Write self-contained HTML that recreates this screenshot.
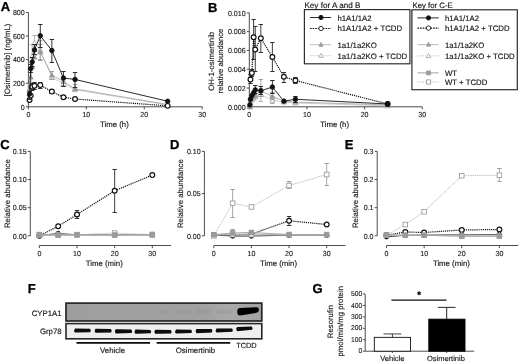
<!DOCTYPE html><html><head><meta charset="utf-8"><title>Figure</title><style>html,body{margin:0;padding:0;background:#fff;}svg{display:block;}text{font-family:"Liberation Sans",Arial,Helvetica,sans-serif;text-rendering:geometricPrecision;}</style></head><body>
<svg width="520" height="363" viewBox="0 0 520 363">
<rect width="520" height="363" fill="#fff"/>
<text font-size="13.0" text-anchor="start" font-weight="bold" fill="#000" stroke="#000" stroke-width="0.3" transform="translate(0.7 11.3)">A</text>
<text font-size="13.0" text-anchor="start" font-weight="bold" fill="#000" stroke="#000" stroke-width="0.3" transform="translate(207.9 11.5)">B</text>
<text font-size="13.0" text-anchor="start" font-weight="bold" fill="#000" stroke="#000" stroke-width="0.3" transform="translate(0.3 149.4)">C</text>
<text font-size="13.0" text-anchor="start" font-weight="bold" fill="#000" stroke="#000" stroke-width="0.3" transform="translate(169.9 149)">D</text>
<text font-size="13.0" text-anchor="start" font-weight="bold" fill="#000" stroke="#000" stroke-width="0.3" transform="translate(344.7 149.1)">E</text>
<text font-size="13.0" text-anchor="start" font-weight="bold" fill="#000" stroke="#000" stroke-width="0.3" transform="translate(27.7 292.8)">F</text>
<text font-size="13.0" text-anchor="start" font-weight="bold" fill="#000" stroke="#000" stroke-width="0.3" transform="translate(312.5 292.7)">G</text>
<line x1="28.4" y1="12.5" x2="28.4" y2="106.8" stroke="#3a3a3a" stroke-width="0.9" stroke-linecap="butt"/>
<line x1="25.9" y1="106.8" x2="28.4" y2="106.8" stroke="#3a3a3a" stroke-width="0.9" stroke-linecap="butt"/>
<text font-size="7.3" text-anchor="end" font-weight="normal" fill="#161616" stroke="#161616" stroke-width="0.12" transform="translate(24.7 109.55) scale(0.97 1)">0</text>
<line x1="25.9" y1="83.22" x2="28.4" y2="83.22" stroke="#3a3a3a" stroke-width="0.9" stroke-linecap="butt"/>
<text font-size="7.3" text-anchor="end" font-weight="normal" fill="#161616" stroke="#161616" stroke-width="0.12" transform="translate(24.7 85.97) scale(0.97 1)">200</text>
<line x1="25.9" y1="59.65" x2="28.4" y2="59.65" stroke="#3a3a3a" stroke-width="0.9" stroke-linecap="butt"/>
<text font-size="7.3" text-anchor="end" font-weight="normal" fill="#161616" stroke="#161616" stroke-width="0.12" transform="translate(24.7 62.4) scale(0.97 1)">400</text>
<line x1="25.9" y1="36.07" x2="28.4" y2="36.07" stroke="#3a3a3a" stroke-width="0.9" stroke-linecap="butt"/>
<text font-size="7.3" text-anchor="end" font-weight="normal" fill="#161616" stroke="#161616" stroke-width="0.12" transform="translate(24.7 38.82) scale(0.97 1)">600</text>
<line x1="25.9" y1="12.5" x2="28.4" y2="12.5" stroke="#3a3a3a" stroke-width="0.9" stroke-linecap="butt"/>
<text font-size="7.3" text-anchor="end" font-weight="normal" fill="#161616" stroke="#161616" stroke-width="0.12" transform="translate(24.7 15.25) scale(0.97 1)">800</text>
<line x1="28.4" y1="106.8" x2="202.19" y2="106.8" stroke="#3a3a3a" stroke-width="0.9" stroke-linecap="butt"/>
<line x1="28.4" y1="106.8" x2="28.4" y2="109.4" stroke="#3a3a3a" stroke-width="0.9" stroke-linecap="butt"/>
<text font-size="7.3" text-anchor="middle" font-weight="normal" fill="#161616" stroke="#161616" stroke-width="0.12" transform="translate(28.4 117) scale(0.97 1)">0</text>
<line x1="86.33" y1="106.8" x2="86.33" y2="109.4" stroke="#3a3a3a" stroke-width="0.9" stroke-linecap="butt"/>
<text font-size="7.3" text-anchor="middle" font-weight="normal" fill="#161616" stroke="#161616" stroke-width="0.12" transform="translate(86.33 117) scale(0.97 1)">10</text>
<line x1="144.26" y1="106.8" x2="144.26" y2="109.4" stroke="#3a3a3a" stroke-width="0.9" stroke-linecap="butt"/>
<text font-size="7.3" text-anchor="middle" font-weight="normal" fill="#161616" stroke="#161616" stroke-width="0.12" transform="translate(144.26 117) scale(0.97 1)">20</text>
<line x1="202.19" y1="106.8" x2="202.19" y2="109.4" stroke="#3a3a3a" stroke-width="0.9" stroke-linecap="butt"/>
<text font-size="7.3" text-anchor="middle" font-weight="normal" fill="#161616" stroke="#161616" stroke-width="0.12" transform="translate(202.19 117) scale(0.97 1)">30</text>
<text font-size="7.8" text-anchor="middle" font-weight="normal" fill="#161616" stroke="#161616" stroke-width="0.15" transform="translate(114.4 126.8)">Time (h)</text>
<text font-size="7.8" text-anchor="middle" font-weight="normal" fill="#161616" stroke="#161616" stroke-width="0.15" transform="translate(10.4 60) rotate(-90)">[Osimertinib] (ng/mL)</text>
<line x1="32.17" y1="44.5" x2="32.17" y2="67.5" stroke="#a8a8a8" stroke-width="0.85" stroke-linecap="butt"/>
<line x1="29.97" y1="44.5" x2="34.37" y2="44.5" stroke="#a8a8a8" stroke-width="0.95" stroke-linecap="butt"/>
<line x1="29.97" y1="67.5" x2="34.37" y2="67.5" stroke="#a8a8a8" stroke-width="0.95" stroke-linecap="butt"/>
<line x1="34.49" y1="35.5" x2="34.49" y2="51.5" stroke="#a8a8a8" stroke-width="0.85" stroke-linecap="butt"/>
<line x1="32.29" y1="35.5" x2="36.69" y2="35.5" stroke="#a8a8a8" stroke-width="0.95" stroke-linecap="butt"/>
<line x1="32.29" y1="51.5" x2="36.69" y2="51.5" stroke="#a8a8a8" stroke-width="0.95" stroke-linecap="butt"/>
<line x1="40.28" y1="40.5" x2="40.28" y2="59.5" stroke="#a8a8a8" stroke-width="0.85" stroke-linecap="butt"/>
<line x1="38.08" y1="40.5" x2="42.48" y2="40.5" stroke="#a8a8a8" stroke-width="0.95" stroke-linecap="butt"/>
<line x1="38.08" y1="59.5" x2="42.48" y2="59.5" stroke="#a8a8a8" stroke-width="0.95" stroke-linecap="butt"/>
<polyline points="29.57,93.83 30.73,83.22 32.17,56.11 34.49,43.14 40.28,50.22 51.86,77.33 63.44,83.81 75.02,89.71 167.66,105.03" fill="none" stroke="#c4c4c4" stroke-width="0.8" stroke-linejoin="round"/>
<polygon points="29.57,91.07 32.21,95.77 26.93,95.77" fill="#fff" stroke="#a8a8a8" stroke-width="0.85"/>
<polygon points="30.73,80.46 33.37,85.16 28.09,85.16" fill="#fff" stroke="#a8a8a8" stroke-width="0.85"/>
<polygon points="32.17,53.35 34.81,58.04 29.53,58.04" fill="#fff" stroke="#a8a8a8" stroke-width="0.85"/>
<polygon points="34.49,40.38 37.13,45.08 31.85,45.08" fill="#fff" stroke="#a8a8a8" stroke-width="0.85"/>
<polygon points="40.28,47.46 42.92,52.15 37.64,52.15" fill="#fff" stroke="#a8a8a8" stroke-width="0.85"/>
<polygon points="51.86,74.57 54.5,79.26 49.22,79.26" fill="#fff" stroke="#a8a8a8" stroke-width="0.85"/>
<polygon points="63.44,81.05 66.08,85.75 60.8,85.75" fill="#fff" stroke="#a8a8a8" stroke-width="0.85"/>
<polygon points="75.02,86.95 77.66,91.64 72.38,91.64" fill="#fff" stroke="#a8a8a8" stroke-width="0.85"/>
<polygon points="167.66,102.27 170.3,106.96 165.02,106.96" fill="#fff" stroke="#a8a8a8" stroke-width="0.85"/>
<line x1="40.28" y1="44.5" x2="40.28" y2="60.5" stroke="#9a9a9a" stroke-width="0.85" stroke-linecap="butt"/>
<line x1="38.08" y1="44.5" x2="42.48" y2="44.5" stroke="#9a9a9a" stroke-width="0.95" stroke-linecap="butt"/>
<line x1="38.08" y1="60.5" x2="42.48" y2="60.5" stroke="#9a9a9a" stroke-width="0.95" stroke-linecap="butt"/>
<line x1="51.86" y1="71.5" x2="51.86" y2="79.5" stroke="#9a9a9a" stroke-width="0.85" stroke-linecap="butt"/>
<line x1="49.66" y1="71.5" x2="54.06" y2="71.5" stroke="#9a9a9a" stroke-width="0.95" stroke-linecap="butt"/>
<line x1="49.66" y1="79.5" x2="54.06" y2="79.5" stroke="#9a9a9a" stroke-width="0.95" stroke-linecap="butt"/>
<line x1="75.02" y1="84.5" x2="75.02" y2="90.5" stroke="#9a9a9a" stroke-width="0.85" stroke-linecap="butt"/>
<line x1="72.82" y1="84.5" x2="77.22" y2="84.5" stroke="#9a9a9a" stroke-width="0.95" stroke-linecap="butt"/>
<line x1="72.82" y1="90.5" x2="77.22" y2="90.5" stroke="#9a9a9a" stroke-width="0.95" stroke-linecap="butt"/>
<polyline points="29.57,89.12 30.73,77.33 32.17,66.72 34.49,57.29 40.28,51.99 51.86,75.21 63.44,81.46 75.02,88.88 167.66,104.44" fill="none" stroke="#a8a8a8" stroke-width="0.9" stroke-linejoin="round"/>
<polygon points="29.57,86.59 31.99,90.89 27.15,90.89" fill="#9a9a9a" stroke="#9a9a9a" stroke-width="0.85"/>
<polygon points="30.73,74.8 33.15,79.1 28.31,79.1" fill="#9a9a9a" stroke="#9a9a9a" stroke-width="0.85"/>
<polygon points="32.17,64.19 34.59,68.49 29.75,68.49" fill="#9a9a9a" stroke="#9a9a9a" stroke-width="0.85"/>
<polygon points="34.49,54.76 36.91,59.06 32.07,59.06" fill="#9a9a9a" stroke="#9a9a9a" stroke-width="0.85"/>
<polygon points="40.28,49.46 42.7,53.76 37.86,53.76" fill="#9a9a9a" stroke="#9a9a9a" stroke-width="0.85"/>
<polygon points="51.86,72.68 54.28,76.98 49.44,76.98" fill="#9a9a9a" stroke="#9a9a9a" stroke-width="0.85"/>
<polygon points="63.44,78.93 65.86,83.23 61.02,83.23" fill="#9a9a9a" stroke="#9a9a9a" stroke-width="0.85"/>
<polygon points="75.02,86.35 77.44,90.65 72.6,90.65" fill="#9a9a9a" stroke="#9a9a9a" stroke-width="0.85"/>
<polygon points="167.66,101.91 170.08,106.21 165.24,106.21" fill="#9a9a9a" stroke="#9a9a9a" stroke-width="0.85"/>
<line x1="32.17" y1="83.5" x2="32.17" y2="90.5" stroke="#333" stroke-width="0.95" stroke-linecap="butt"/>
<line x1="29.97" y1="83.5" x2="34.37" y2="83.5" stroke="#333" stroke-width="1.05" stroke-linecap="butt"/>
<line x1="29.97" y1="90.5" x2="34.37" y2="90.5" stroke="#333" stroke-width="1.05" stroke-linecap="butt"/>
<line x1="34.49" y1="82.5" x2="34.49" y2="89.5" stroke="#333" stroke-width="0.95" stroke-linecap="butt"/>
<line x1="32.29" y1="82.5" x2="36.69" y2="82.5" stroke="#333" stroke-width="1.05" stroke-linecap="butt"/>
<line x1="32.29" y1="89.5" x2="36.69" y2="89.5" stroke="#333" stroke-width="1.05" stroke-linecap="butt"/>
<line x1="40.28" y1="82.5" x2="40.28" y2="88.5" stroke="#333" stroke-width="0.95" stroke-linecap="butt"/>
<line x1="38.08" y1="82.5" x2="42.48" y2="82.5" stroke="#333" stroke-width="1.05" stroke-linecap="butt"/>
<line x1="38.08" y1="88.5" x2="42.48" y2="88.5" stroke="#333" stroke-width="1.05" stroke-linecap="butt"/>
<line x1="51.86" y1="89.5" x2="51.86" y2="93.5" stroke="#333" stroke-width="0.95" stroke-linecap="butt"/>
<line x1="49.66" y1="89.5" x2="54.06" y2="89.5" stroke="#333" stroke-width="1.05" stroke-linecap="butt"/>
<line x1="49.66" y1="93.5" x2="54.06" y2="93.5" stroke="#333" stroke-width="1.05" stroke-linecap="butt"/>
<line x1="63.44" y1="95.5" x2="63.44" y2="98.5" stroke="#333" stroke-width="0.95" stroke-linecap="butt"/>
<line x1="61.24" y1="95.5" x2="65.64" y2="95.5" stroke="#333" stroke-width="1.05" stroke-linecap="butt"/>
<line x1="61.24" y1="98.5" x2="65.64" y2="98.5" stroke="#333" stroke-width="1.05" stroke-linecap="butt"/>
<polyline points="29.57,99.96 30.73,95.6 32.17,86.76 34.49,85.82 40.28,85.11 51.86,91.59 63.44,97.25 75.02,99.02 167.66,105.86" fill="none" stroke="#111" stroke-width="1.2" stroke-dasharray="1.2,0.9" stroke-linejoin="round"/>
<circle cx="29.57" cy="99.96" r="2.4" fill="#fff" stroke="#111" stroke-width="1.15"/>
<circle cx="30.73" cy="95.6" r="2.4" fill="#fff" stroke="#111" stroke-width="1.15"/>
<circle cx="32.17" cy="86.76" r="2.4" fill="#fff" stroke="#111" stroke-width="1.15"/>
<circle cx="34.49" cy="85.82" r="2.4" fill="#fff" stroke="#111" stroke-width="1.15"/>
<circle cx="40.28" cy="85.11" r="2.4" fill="#fff" stroke="#111" stroke-width="1.15"/>
<circle cx="51.86" cy="91.59" r="2.4" fill="#fff" stroke="#111" stroke-width="1.15"/>
<circle cx="63.44" cy="97.25" r="2.4" fill="#fff" stroke="#111" stroke-width="1.15"/>
<circle cx="75.02" cy="99.02" r="2.4" fill="#fff" stroke="#111" stroke-width="1.15"/>
<circle cx="167.66" cy="105.86" r="2.4" fill="#fff" stroke="#111" stroke-width="1.15"/>
<line x1="29.57" y1="91.5" x2="29.57" y2="99.5" stroke="#2a2a2a" stroke-width="0.95" stroke-linecap="butt"/>
<line x1="27.37" y1="91.5" x2="31.77" y2="91.5" stroke="#2a2a2a" stroke-width="1.05" stroke-linecap="butt"/>
<line x1="27.37" y1="99.5" x2="31.77" y2="99.5" stroke="#2a2a2a" stroke-width="1.05" stroke-linecap="butt"/>
<line x1="30.73" y1="64.5" x2="30.73" y2="72.5" stroke="#2a2a2a" stroke-width="0.95" stroke-linecap="butt"/>
<line x1="28.53" y1="64.5" x2="32.93" y2="64.5" stroke="#2a2a2a" stroke-width="1.05" stroke-linecap="butt"/>
<line x1="28.53" y1="72.5" x2="32.93" y2="72.5" stroke="#2a2a2a" stroke-width="1.05" stroke-linecap="butt"/>
<line x1="32.17" y1="57.5" x2="32.17" y2="66.5" stroke="#2a2a2a" stroke-width="0.95" stroke-linecap="butt"/>
<line x1="29.97" y1="57.5" x2="34.37" y2="57.5" stroke="#2a2a2a" stroke-width="1.05" stroke-linecap="butt"/>
<line x1="29.97" y1="66.5" x2="34.37" y2="66.5" stroke="#2a2a2a" stroke-width="1.05" stroke-linecap="butt"/>
<line x1="34.49" y1="44.5" x2="34.49" y2="54.5" stroke="#2a2a2a" stroke-width="0.95" stroke-linecap="butt"/>
<line x1="32.29" y1="44.5" x2="36.69" y2="44.5" stroke="#2a2a2a" stroke-width="1.05" stroke-linecap="butt"/>
<line x1="32.29" y1="54.5" x2="36.69" y2="54.5" stroke="#2a2a2a" stroke-width="1.05" stroke-linecap="butt"/>
<line x1="40.28" y1="24.5" x2="40.28" y2="47.5" stroke="#2a2a2a" stroke-width="0.95" stroke-linecap="butt"/>
<line x1="38.08" y1="24.5" x2="42.48" y2="24.5" stroke="#2a2a2a" stroke-width="1.05" stroke-linecap="butt"/>
<line x1="38.08" y1="47.5" x2="42.48" y2="47.5" stroke="#2a2a2a" stroke-width="1.05" stroke-linecap="butt"/>
<line x1="51.86" y1="39.5" x2="51.86" y2="62.5" stroke="#2a2a2a" stroke-width="0.95" stroke-linecap="butt"/>
<line x1="49.66" y1="39.5" x2="54.06" y2="39.5" stroke="#2a2a2a" stroke-width="1.05" stroke-linecap="butt"/>
<line x1="49.66" y1="62.5" x2="54.06" y2="62.5" stroke="#2a2a2a" stroke-width="1.05" stroke-linecap="butt"/>
<line x1="63.44" y1="71.5" x2="63.44" y2="86.5" stroke="#2a2a2a" stroke-width="0.95" stroke-linecap="butt"/>
<line x1="61.24" y1="71.5" x2="65.64" y2="71.5" stroke="#2a2a2a" stroke-width="1.05" stroke-linecap="butt"/>
<line x1="61.24" y1="86.5" x2="65.64" y2="86.5" stroke="#2a2a2a" stroke-width="1.05" stroke-linecap="butt"/>
<line x1="75.02" y1="72.5" x2="75.02" y2="87.5" stroke="#2a2a2a" stroke-width="0.95" stroke-linecap="butt"/>
<line x1="72.82" y1="72.5" x2="77.22" y2="72.5" stroke="#2a2a2a" stroke-width="1.05" stroke-linecap="butt"/>
<line x1="72.82" y1="87.5" x2="77.22" y2="87.5" stroke="#2a2a2a" stroke-width="1.05" stroke-linecap="butt"/>
<polyline points="29.57,94.07 30.73,68.61 32.17,62.01 34.49,49.98 40.28,35.72 51.86,50.57 63.44,78.04 75.02,79.45 167.66,101.26" fill="none" stroke="#111" stroke-width="0.9" stroke-linejoin="round"/>
<circle cx="29.57" cy="94.07" r="2.25" fill="#111" stroke="#111" stroke-width="0.85"/>
<circle cx="30.73" cy="68.61" r="2.25" fill="#111" stroke="#111" stroke-width="0.85"/>
<circle cx="32.17" cy="62.01" r="2.25" fill="#111" stroke="#111" stroke-width="0.85"/>
<circle cx="34.49" cy="49.98" r="2.25" fill="#111" stroke="#111" stroke-width="0.85"/>
<circle cx="40.28" cy="35.72" r="2.25" fill="#111" stroke="#111" stroke-width="0.85"/>
<circle cx="51.86" cy="50.57" r="2.25" fill="#111" stroke="#111" stroke-width="0.85"/>
<circle cx="63.44" cy="78.04" r="2.25" fill="#111" stroke="#111" stroke-width="0.85"/>
<circle cx="75.02" cy="79.45" r="2.25" fill="#111" stroke="#111" stroke-width="0.85"/>
<circle cx="167.66" cy="101.26" r="2.25" fill="#111" stroke="#111" stroke-width="0.85"/>
<line x1="249.3" y1="12.86" x2="249.3" y2="106.8" stroke="#3a3a3a" stroke-width="0.9" stroke-linecap="butt"/>
<line x1="246.8" y1="106.8" x2="249.3" y2="106.8" stroke="#3a3a3a" stroke-width="0.9" stroke-linecap="butt"/>
<text font-size="7.3" text-anchor="end" font-weight="normal" fill="#161616" stroke="#161616" stroke-width="0.12" transform="translate(245.6 109.55) scale(0.97 1)">0.000</text>
<line x1="246.8" y1="88.01" x2="249.3" y2="88.01" stroke="#3a3a3a" stroke-width="0.9" stroke-linecap="butt"/>
<text font-size="7.3" text-anchor="end" font-weight="normal" fill="#161616" stroke="#161616" stroke-width="0.12" transform="translate(245.6 90.76) scale(0.97 1)">0.002</text>
<line x1="246.8" y1="69.22" x2="249.3" y2="69.22" stroke="#3a3a3a" stroke-width="0.9" stroke-linecap="butt"/>
<text font-size="7.3" text-anchor="end" font-weight="normal" fill="#161616" stroke="#161616" stroke-width="0.12" transform="translate(245.6 71.97) scale(0.97 1)">0.004</text>
<line x1="246.8" y1="50.44" x2="249.3" y2="50.44" stroke="#3a3a3a" stroke-width="0.9" stroke-linecap="butt"/>
<text font-size="7.3" text-anchor="end" font-weight="normal" fill="#161616" stroke="#161616" stroke-width="0.12" transform="translate(245.6 53.19) scale(0.97 1)">0.006</text>
<line x1="246.8" y1="31.65" x2="249.3" y2="31.65" stroke="#3a3a3a" stroke-width="0.9" stroke-linecap="butt"/>
<text font-size="7.3" text-anchor="end" font-weight="normal" fill="#161616" stroke="#161616" stroke-width="0.12" transform="translate(245.6 34.4) scale(0.97 1)">0.008</text>
<line x1="246.8" y1="12.86" x2="249.3" y2="12.86" stroke="#3a3a3a" stroke-width="0.9" stroke-linecap="butt"/>
<text font-size="7.3" text-anchor="end" font-weight="normal" fill="#161616" stroke="#161616" stroke-width="0.12" transform="translate(245.6 15.61) scale(0.97 1)">0.010</text>
<line x1="249.3" y1="106.8" x2="422.25" y2="106.8" stroke="#3a3a3a" stroke-width="0.9" stroke-linecap="butt"/>
<line x1="249.3" y1="106.8" x2="249.3" y2="109.4" stroke="#3a3a3a" stroke-width="0.9" stroke-linecap="butt"/>
<text font-size="7.3" text-anchor="middle" font-weight="normal" fill="#161616" stroke="#161616" stroke-width="0.12" transform="translate(249.3 117) scale(0.97 1)">0</text>
<line x1="306.95" y1="106.8" x2="306.95" y2="109.4" stroke="#3a3a3a" stroke-width="0.9" stroke-linecap="butt"/>
<text font-size="7.3" text-anchor="middle" font-weight="normal" fill="#161616" stroke="#161616" stroke-width="0.12" transform="translate(306.95 117) scale(0.97 1)">10</text>
<line x1="364.6" y1="106.8" x2="364.6" y2="109.4" stroke="#3a3a3a" stroke-width="0.9" stroke-linecap="butt"/>
<text font-size="7.3" text-anchor="middle" font-weight="normal" fill="#161616" stroke="#161616" stroke-width="0.12" transform="translate(364.6 117) scale(0.97 1)">20</text>
<line x1="422.25" y1="106.8" x2="422.25" y2="109.4" stroke="#3a3a3a" stroke-width="0.9" stroke-linecap="butt"/>
<text font-size="7.3" text-anchor="middle" font-weight="normal" fill="#161616" stroke="#161616" stroke-width="0.12" transform="translate(422.25 117) scale(0.97 1)">30</text>
<text font-size="7.8" text-anchor="middle" font-weight="normal" fill="#161616" stroke="#161616" stroke-width="0.15" transform="translate(334.6 127)">Time (h)</text>
<text font-size="7.8" text-anchor="middle" font-weight="normal" fill="#161616" stroke="#161616" stroke-width="0.15" transform="translate(214.3 61.25) rotate(-90)">OH-1-osimertinib</text>
<text font-size="7.65" text-anchor="middle" font-weight="normal" fill="#161616" stroke="#161616" stroke-width="0.15" transform="translate(223 61.05) rotate(-90)">relative abundance</text>
<line x1="260.83" y1="88.5" x2="260.83" y2="101.5" stroke="#a8a8a8" stroke-width="0.85" stroke-linecap="butt"/>
<line x1="258.63" y1="88.5" x2="263.03" y2="88.5" stroke="#a8a8a8" stroke-width="0.95" stroke-linecap="butt"/>
<line x1="258.63" y1="101.5" x2="263.03" y2="101.5" stroke="#a8a8a8" stroke-width="0.95" stroke-linecap="butt"/>
<line x1="272.36" y1="96.5" x2="272.36" y2="103.5" stroke="#a8a8a8" stroke-width="0.85" stroke-linecap="butt"/>
<line x1="270.16" y1="96.5" x2="274.56" y2="96.5" stroke="#a8a8a8" stroke-width="0.95" stroke-linecap="butt"/>
<line x1="270.16" y1="103.5" x2="274.56" y2="103.5" stroke="#a8a8a8" stroke-width="0.95" stroke-linecap="butt"/>
<polyline points="249.88,106.8 250.45,103.04 251.89,99.28 253.62,98.35 255.24,96.47 260.83,94.59 272.36,100.22 283.89,102.1 295.42,103.04 387.66,105.86" fill="none" stroke="#c4c4c4" stroke-width="0.8" stroke-linejoin="round"/>
<polygon points="249.88,104.04 252.52,108.73 247.24,108.73" fill="#fff" stroke="#a8a8a8" stroke-width="0.85"/>
<polygon points="250.45,100.28 253.09,104.97 247.81,104.97" fill="#fff" stroke="#a8a8a8" stroke-width="0.85"/>
<polygon points="251.89,96.52 254.53,101.22 249.25,101.22" fill="#fff" stroke="#a8a8a8" stroke-width="0.85"/>
<polygon points="253.62,95.59 256.26,100.28 250.98,100.28" fill="#fff" stroke="#a8a8a8" stroke-width="0.85"/>
<polygon points="255.24,93.71 257.88,98.4 252.6,98.4" fill="#fff" stroke="#a8a8a8" stroke-width="0.85"/>
<polygon points="260.83,91.83 263.47,96.52 258.19,96.52" fill="#fff" stroke="#a8a8a8" stroke-width="0.85"/>
<polygon points="272.36,97.46 275,102.16 269.72,102.16" fill="#fff" stroke="#a8a8a8" stroke-width="0.85"/>
<polygon points="283.89,99.34 286.53,104.03 281.25,104.03" fill="#fff" stroke="#a8a8a8" stroke-width="0.85"/>
<polygon points="295.42,100.28 298.06,104.97 292.78,104.97" fill="#fff" stroke="#a8a8a8" stroke-width="0.85"/>
<polygon points="387.66,103.1 390.3,107.79 385.02,107.79" fill="#fff" stroke="#a8a8a8" stroke-width="0.85"/>
<line x1="260.83" y1="79.5" x2="260.83" y2="96.5" stroke="#9a9a9a" stroke-width="0.85" stroke-linecap="butt"/>
<line x1="258.63" y1="79.5" x2="263.03" y2="79.5" stroke="#9a9a9a" stroke-width="0.95" stroke-linecap="butt"/>
<line x1="258.63" y1="96.5" x2="263.03" y2="96.5" stroke="#9a9a9a" stroke-width="0.95" stroke-linecap="butt"/>
<line x1="272.36" y1="92.5" x2="272.36" y2="99.5" stroke="#9a9a9a" stroke-width="0.85" stroke-linecap="butt"/>
<line x1="270.16" y1="92.5" x2="274.56" y2="92.5" stroke="#9a9a9a" stroke-width="0.95" stroke-linecap="butt"/>
<line x1="270.16" y1="99.5" x2="274.56" y2="99.5" stroke="#9a9a9a" stroke-width="0.95" stroke-linecap="butt"/>
<polyline points="249.88,106.8 250.45,101.16 251.89,97.41 253.62,96.47 255.24,95.53 260.83,90.83 272.36,96.47 283.89,101.16 295.42,102.1 387.66,104.92" fill="none" stroke="#a8a8a8" stroke-width="0.9" stroke-linejoin="round"/>
<polygon points="249.88,104.27 252.3,108.57 247.46,108.57" fill="#9a9a9a" stroke="#9a9a9a" stroke-width="0.85"/>
<polygon points="250.45,98.63 252.87,102.93 248.03,102.93" fill="#9a9a9a" stroke="#9a9a9a" stroke-width="0.85"/>
<polygon points="251.89,94.88 254.31,99.18 249.47,99.18" fill="#9a9a9a" stroke="#9a9a9a" stroke-width="0.85"/>
<polygon points="253.62,93.94 256.04,98.24 251.2,98.24" fill="#9a9a9a" stroke="#9a9a9a" stroke-width="0.85"/>
<polygon points="255.24,93 257.66,97.3 252.82,97.3" fill="#9a9a9a" stroke="#9a9a9a" stroke-width="0.85"/>
<polygon points="260.83,88.3 263.25,92.6 258.41,92.6" fill="#9a9a9a" stroke="#9a9a9a" stroke-width="0.85"/>
<polygon points="272.36,93.94 274.78,98.24 269.94,98.24" fill="#9a9a9a" stroke="#9a9a9a" stroke-width="0.85"/>
<polygon points="283.89,98.63 286.31,102.93 281.47,102.93" fill="#9a9a9a" stroke="#9a9a9a" stroke-width="0.85"/>
<polygon points="295.42,99.57 297.84,103.87 293,103.87" fill="#9a9a9a" stroke="#9a9a9a" stroke-width="0.85"/>
<polygon points="387.66,102.39 390.08,106.69 385.24,106.69" fill="#9a9a9a" stroke="#9a9a9a" stroke-width="0.85"/>
<line x1="250.45" y1="74.5" x2="250.45" y2="83.5" stroke="#333" stroke-width="0.95" stroke-linecap="butt"/>
<line x1="248.25" y1="74.5" x2="252.65" y2="74.5" stroke="#333" stroke-width="1.05" stroke-linecap="butt"/>
<line x1="248.25" y1="83.5" x2="252.65" y2="83.5" stroke="#333" stroke-width="1.05" stroke-linecap="butt"/>
<line x1="251.89" y1="69.5" x2="251.89" y2="76.5" stroke="#333" stroke-width="0.95" stroke-linecap="butt"/>
<line x1="249.69" y1="69.5" x2="254.09" y2="69.5" stroke="#333" stroke-width="1.05" stroke-linecap="butt"/>
<line x1="249.69" y1="76.5" x2="254.09" y2="76.5" stroke="#333" stroke-width="1.05" stroke-linecap="butt"/>
<line x1="253.62" y1="19.5" x2="253.62" y2="59.5" stroke="#333" stroke-width="0.95" stroke-linecap="butt"/>
<line x1="251.42" y1="19.5" x2="255.82" y2="19.5" stroke="#333" stroke-width="1.05" stroke-linecap="butt"/>
<line x1="251.42" y1="59.5" x2="255.82" y2="59.5" stroke="#333" stroke-width="1.05" stroke-linecap="butt"/>
<line x1="255.24" y1="26.5" x2="255.24" y2="71.5" stroke="#333" stroke-width="0.95" stroke-linecap="butt"/>
<line x1="253.04" y1="26.5" x2="257.44" y2="26.5" stroke="#333" stroke-width="1.05" stroke-linecap="butt"/>
<line x1="253.04" y1="71.5" x2="257.44" y2="71.5" stroke="#333" stroke-width="1.05" stroke-linecap="butt"/>
<line x1="260.83" y1="24.5" x2="260.83" y2="52.5" stroke="#333" stroke-width="0.95" stroke-linecap="butt"/>
<line x1="258.63" y1="24.5" x2="263.03" y2="24.5" stroke="#333" stroke-width="1.05" stroke-linecap="butt"/>
<line x1="258.63" y1="52.5" x2="263.03" y2="52.5" stroke="#333" stroke-width="1.05" stroke-linecap="butt"/>
<line x1="272.36" y1="42.5" x2="272.36" y2="71.5" stroke="#333" stroke-width="0.95" stroke-linecap="butt"/>
<line x1="270.16" y1="42.5" x2="274.56" y2="42.5" stroke="#333" stroke-width="1.05" stroke-linecap="butt"/>
<line x1="270.16" y1="71.5" x2="274.56" y2="71.5" stroke="#333" stroke-width="1.05" stroke-linecap="butt"/>
<line x1="283.89" y1="72.5" x2="283.89" y2="82.5" stroke="#333" stroke-width="0.95" stroke-linecap="butt"/>
<line x1="281.69" y1="72.5" x2="286.09" y2="72.5" stroke="#333" stroke-width="1.05" stroke-linecap="butt"/>
<line x1="281.69" y1="82.5" x2="286.09" y2="82.5" stroke="#333" stroke-width="1.05" stroke-linecap="butt"/>
<line x1="295.42" y1="77.5" x2="295.42" y2="83.5" stroke="#333" stroke-width="0.95" stroke-linecap="butt"/>
<line x1="293.22" y1="77.5" x2="297.62" y2="77.5" stroke="#333" stroke-width="1.05" stroke-linecap="butt"/>
<line x1="293.22" y1="83.5" x2="297.62" y2="83.5" stroke="#333" stroke-width="1.05" stroke-linecap="butt"/>
<polyline points="250.45,79.56 251.89,72.98 253.62,37.28 255.24,49.5 260.83,38.22 272.36,57.01 283.89,76.74 295.42,80.5 387.66,103.98" fill="none" stroke="#111" stroke-width="1.2" stroke-dasharray="1.2,0.9" stroke-linejoin="round"/>
<circle cx="250.45" cy="79.56" r="2.4" fill="#fff" stroke="#111" stroke-width="1.15"/>
<circle cx="251.89" cy="72.98" r="2.4" fill="#fff" stroke="#111" stroke-width="1.15"/>
<circle cx="253.62" cy="37.28" r="2.4" fill="#fff" stroke="#111" stroke-width="1.15"/>
<circle cx="255.24" cy="49.5" r="2.4" fill="#fff" stroke="#111" stroke-width="1.15"/>
<circle cx="260.83" cy="38.22" r="2.4" fill="#fff" stroke="#111" stroke-width="1.15"/>
<circle cx="272.36" cy="57.01" r="2.4" fill="#fff" stroke="#111" stroke-width="1.15"/>
<circle cx="283.89" cy="76.74" r="2.4" fill="#fff" stroke="#111" stroke-width="1.15"/>
<circle cx="295.42" cy="80.5" r="2.4" fill="#fff" stroke="#111" stroke-width="1.15"/>
<circle cx="387.66" cy="103.98" r="2.4" fill="#fff" stroke="#111" stroke-width="1.15"/>
<line x1="255.24" y1="85.5" x2="255.24" y2="93.5" stroke="#2a2a2a" stroke-width="0.95" stroke-linecap="butt"/>
<line x1="253.04" y1="85.5" x2="257.44" y2="85.5" stroke="#2a2a2a" stroke-width="1.05" stroke-linecap="butt"/>
<line x1="253.04" y1="93.5" x2="257.44" y2="93.5" stroke="#2a2a2a" stroke-width="1.05" stroke-linecap="butt"/>
<line x1="260.83" y1="86.5" x2="260.83" y2="94.5" stroke="#2a2a2a" stroke-width="0.95" stroke-linecap="butt"/>
<line x1="258.63" y1="86.5" x2="263.03" y2="86.5" stroke="#2a2a2a" stroke-width="1.05" stroke-linecap="butt"/>
<line x1="258.63" y1="94.5" x2="263.03" y2="94.5" stroke="#2a2a2a" stroke-width="1.05" stroke-linecap="butt"/>
<line x1="272.36" y1="80.5" x2="272.36" y2="93.5" stroke="#2a2a2a" stroke-width="0.95" stroke-linecap="butt"/>
<line x1="270.16" y1="80.5" x2="274.56" y2="80.5" stroke="#2a2a2a" stroke-width="1.05" stroke-linecap="butt"/>
<line x1="270.16" y1="93.5" x2="274.56" y2="93.5" stroke="#2a2a2a" stroke-width="1.05" stroke-linecap="butt"/>
<line x1="295.42" y1="96.5" x2="295.42" y2="102.5" stroke="#2a2a2a" stroke-width="0.95" stroke-linecap="butt"/>
<line x1="293.22" y1="96.5" x2="297.62" y2="96.5" stroke="#2a2a2a" stroke-width="1.05" stroke-linecap="butt"/>
<line x1="293.22" y1="102.5" x2="297.62" y2="102.5" stroke="#2a2a2a" stroke-width="1.05" stroke-linecap="butt"/>
<polyline points="249.88,104.92 250.45,99.28 251.89,95.53 253.62,92.71 255.24,89.89 260.83,90.83 272.36,87.07 283.89,101.16 295.42,99.28 387.66,103.98" fill="none" stroke="#111" stroke-width="0.9" stroke-linejoin="round"/>
<circle cx="249.88" cy="104.92" r="2.25" fill="#111" stroke="#111" stroke-width="0.85"/>
<circle cx="250.45" cy="99.28" r="2.25" fill="#111" stroke="#111" stroke-width="0.85"/>
<circle cx="251.89" cy="95.53" r="2.25" fill="#111" stroke="#111" stroke-width="0.85"/>
<circle cx="253.62" cy="92.71" r="2.25" fill="#111" stroke="#111" stroke-width="0.85"/>
<circle cx="255.24" cy="89.89" r="2.25" fill="#111" stroke="#111" stroke-width="0.85"/>
<circle cx="260.83" cy="90.83" r="2.25" fill="#111" stroke="#111" stroke-width="0.85"/>
<circle cx="272.36" cy="87.07" r="2.25" fill="#111" stroke="#111" stroke-width="0.85"/>
<circle cx="283.89" cy="101.16" r="2.25" fill="#111" stroke="#111" stroke-width="0.85"/>
<circle cx="295.42" cy="99.28" r="2.25" fill="#111" stroke="#111" stroke-width="0.85"/>
<circle cx="387.66" cy="103.98" r="2.25" fill="#111" stroke="#111" stroke-width="0.85"/>
<rect x="304.4" y="9.6" width="105.5" height="54.2" fill="#fff" stroke="#2e2e2e" stroke-width="1.2"/>
<text font-size="8.15" text-anchor="start" font-weight="normal" fill="#161616" stroke="#161616" stroke-width="0.15" transform="translate(304.4 7.7)">Key for A and B</text>
<polyline points="310,17.5 331.2,17.5" fill="none" stroke="#111" stroke-width="0.9" stroke-linejoin="round"/>
<circle cx="321" cy="17.5" r="2.15" fill="#111" stroke="#111" stroke-width="0.85"/>
<text font-size="7.8" text-anchor="start" font-weight="normal" fill="#161616" stroke="#161616" stroke-width="0.15" transform="translate(337.4 20.9)">h1A1/1A2</text>
<polyline points="310,28.5 331.2,28.5" fill="none" stroke="#111" stroke-width="1.2" stroke-dasharray="1.6,1" stroke-linejoin="round"/>
<circle cx="321" cy="28.5" r="2.2" fill="#fff" stroke="#111" stroke-width="0.85"/>
<text font-size="7.8" text-anchor="start" font-weight="normal" fill="#161616" stroke="#161616" stroke-width="0.15" transform="translate(337.4 31)">h1A1/1A2 + TCDD</text>
<polyline points="310,44.7 331.2,44.7" fill="none" stroke="#b4b4b4" stroke-width="0.9" stroke-linejoin="round"/>
<polygon points="321,42.52 323.09,46.23 318.91,46.23" fill="#9a9a9a" stroke="#9a9a9a" stroke-width="0.85"/>
<text font-size="7.8" text-anchor="start" font-weight="normal" fill="#161616" stroke="#161616" stroke-width="0.15" transform="translate(337.4 47.8)">1a1/1a2KO</text>
<polyline points="310,55.7 331.2,55.7" fill="none" stroke="#bdbdbd" stroke-width="0.8" stroke-dasharray="1.5,1" stroke-linejoin="round"/>
<polygon points="321,53.29 323.31,57.39 318.69,57.39" fill="#fff" stroke="#a8a8a8" stroke-width="0.85"/>
<text font-size="7.8" text-anchor="start" font-weight="normal" fill="#161616" stroke="#161616" stroke-width="0.15" transform="translate(337.4 59)">1a1/1a2KO + TCDD</text>
<rect x="410.3" y="9.8" width="1.3" height="54" fill="#9a9a9a"/>
<rect x="411.9" y="9.8" width="105.4" height="79.9" fill="#fff" stroke="#2e2e2e" stroke-width="1.2"/>
<text font-size="7.8" text-anchor="start" font-weight="normal" fill="#161616" stroke="#161616" stroke-width="0.15" transform="translate(412.5 7.9)">Key for C-E</text>
<polyline points="417.5,17.9 438.7,17.9" fill="none" stroke="#111" stroke-width="0.9" stroke-linejoin="round"/>
<circle cx="428.5" cy="17.9" r="2.15" fill="#111" stroke="#111" stroke-width="0.85"/>
<text font-size="7.8" text-anchor="start" font-weight="normal" fill="#161616" stroke="#161616" stroke-width="0.15" transform="translate(444.9 20.7)">h1A1/1A2</text>
<polyline points="417.5,28.1 438.7,28.1" fill="none" stroke="#111" stroke-width="1.2" stroke-dasharray="1.6,1" stroke-linejoin="round"/>
<circle cx="428.5" cy="28.1" r="2.2" fill="#fff" stroke="#111" stroke-width="0.85"/>
<text font-size="7.8" text-anchor="start" font-weight="normal" fill="#161616" stroke="#161616" stroke-width="0.15" transform="translate(444.9 30.9)">h1A1/1A2 + TCDD</text>
<polyline points="417.5,44.6 438.7,44.6" fill="none" stroke="#b4b4b4" stroke-width="0.9" stroke-linejoin="round"/>
<polygon points="428.5,42.41 430.59,46.13 426.41,46.13" fill="#9a9a9a" stroke="#9a9a9a" stroke-width="0.85"/>
<text font-size="7.8" text-anchor="start" font-weight="normal" fill="#161616" stroke="#161616" stroke-width="0.15" transform="translate(444.9 47.9)">1a1/1a2KO</text>
<polyline points="417.5,55.9 438.7,55.9" fill="none" stroke="#bdbdbd" stroke-width="0.8" stroke-dasharray="1.5,1" stroke-linejoin="round"/>
<polygon points="428.5,53.48 430.81,57.59 426.19,57.59" fill="#fff" stroke="#a8a8a8" stroke-width="0.85"/>
<text font-size="7.8" text-anchor="start" font-weight="normal" fill="#161616" stroke="#161616" stroke-width="0.15" transform="translate(444.9 58.7)">1a1/1a2KO + TCDD</text>
<polyline points="417.5,72.9 438.7,72.9" fill="none" stroke="#a0a0a0" stroke-width="1.0" stroke-linejoin="round"/>
<rect x="426.6" y="71" width="3.8" height="3.8" fill="#9a9a9a" stroke="#9a9a9a" stroke-width="0.85"/>
<text font-size="7.8" text-anchor="start" font-weight="normal" fill="#161616" stroke="#161616" stroke-width="0.15" transform="translate(444.9 75.7)">WT</text>
<polyline points="417.5,82 438.7,82" fill="none" stroke="#b8b8b8" stroke-width="0.8" stroke-dasharray="1.5,1" stroke-linejoin="round"/>
<rect x="426.4" y="79.9" width="4.2" height="4.2" fill="#fff" stroke="#999" stroke-width="0.85"/>
<text font-size="7.8" text-anchor="start" font-weight="normal" fill="#161616" stroke="#161616" stroke-width="0.15" transform="translate(444.9 84.8)">WT + TCDD</text>
<line x1="30.3" y1="151.4" x2="30.3" y2="235.85" stroke="#3a3a3a" stroke-width="0.9" stroke-linecap="butt"/>
<line x1="27.8" y1="235.85" x2="30.3" y2="235.85" stroke="#3a3a3a" stroke-width="0.9" stroke-linecap="butt"/>
<text font-size="7.3" text-anchor="end" font-weight="normal" fill="#161616" stroke="#161616" stroke-width="0.12" transform="translate(26.6 238.6) scale(0.97 1)">0.00</text>
<line x1="27.8" y1="207.7" x2="30.3" y2="207.7" stroke="#3a3a3a" stroke-width="0.9" stroke-linecap="butt"/>
<text font-size="7.3" text-anchor="end" font-weight="normal" fill="#161616" stroke="#161616" stroke-width="0.12" transform="translate(26.6 210.45) scale(0.97 1)">0.05</text>
<line x1="27.8" y1="179.55" x2="30.3" y2="179.55" stroke="#3a3a3a" stroke-width="0.9" stroke-linecap="butt"/>
<text font-size="7.3" text-anchor="end" font-weight="normal" fill="#161616" stroke="#161616" stroke-width="0.12" transform="translate(26.6 182.3) scale(0.97 1)">0.10</text>
<line x1="27.8" y1="151.4" x2="30.3" y2="151.4" stroke="#3a3a3a" stroke-width="0.9" stroke-linecap="butt"/>
<text font-size="7.3" text-anchor="end" font-weight="normal" fill="#161616" stroke="#161616" stroke-width="0.12" transform="translate(26.6 154.15) scale(0.97 1)">0.15</text>
<line x1="39.4" y1="245.5" x2="171.1" y2="245.5" stroke="#3a3a3a" stroke-width="0.9" stroke-linecap="butt"/>
<line x1="39.4" y1="245.5" x2="39.4" y2="248.1" stroke="#3a3a3a" stroke-width="0.9" stroke-linecap="butt"/>
<text font-size="7.3" text-anchor="middle" font-weight="normal" fill="#161616" stroke="#161616" stroke-width="0.12" transform="translate(39.4 255.7) scale(0.97 1)">0</text>
<line x1="77.03" y1="245.5" x2="77.03" y2="248.1" stroke="#3a3a3a" stroke-width="0.9" stroke-linecap="butt"/>
<text font-size="7.3" text-anchor="middle" font-weight="normal" fill="#161616" stroke="#161616" stroke-width="0.12" transform="translate(77.03 255.7) scale(0.97 1)">10</text>
<line x1="114.66" y1="245.5" x2="114.66" y2="248.1" stroke="#3a3a3a" stroke-width="0.9" stroke-linecap="butt"/>
<text font-size="7.3" text-anchor="middle" font-weight="normal" fill="#161616" stroke="#161616" stroke-width="0.12" transform="translate(114.66 255.7) scale(0.97 1)">20</text>
<line x1="152.29" y1="245.5" x2="152.29" y2="248.1" stroke="#3a3a3a" stroke-width="0.9" stroke-linecap="butt"/>
<text font-size="7.3" text-anchor="middle" font-weight="normal" fill="#161616" stroke="#161616" stroke-width="0.12" transform="translate(152.29 255.7) scale(0.97 1)">30</text>
<text font-size="7.8" text-anchor="middle" font-weight="normal" fill="#161616" stroke="#161616" stroke-width="0.15" transform="translate(104.3 266.3)">Time (min)</text>
<text font-size="7.8" text-anchor="middle" font-weight="normal" fill="#161616" stroke="#161616" stroke-width="0.15" transform="translate(10.4 193.62) rotate(-90)">Relative abundance</text>
<polyline points="39.4,235.29 58.21,233.6 77.03,234.72 114.66,234.72 152.29,234.72" fill="none" stroke="#111" stroke-width="0.9" stroke-linejoin="round"/>
<circle cx="39.4" cy="235.29" r="2.25" fill="#111" stroke="#111" stroke-width="0.85"/>
<circle cx="58.21" cy="233.6" r="2.25" fill="#111" stroke="#111" stroke-width="0.85"/>
<circle cx="77.03" cy="234.72" r="2.25" fill="#111" stroke="#111" stroke-width="0.85"/>
<circle cx="114.66" cy="234.72" r="2.25" fill="#111" stroke="#111" stroke-width="0.85"/>
<circle cx="152.29" cy="234.72" r="2.25" fill="#111" stroke="#111" stroke-width="0.85"/>
<line x1="77.03" y1="210.5" x2="77.03" y2="218.5" stroke="#333" stroke-width="0.95" stroke-linecap="butt"/>
<line x1="74.83" y1="210.5" x2="79.23" y2="210.5" stroke="#333" stroke-width="1.05" stroke-linecap="butt"/>
<line x1="74.83" y1="218.5" x2="79.23" y2="218.5" stroke="#333" stroke-width="1.05" stroke-linecap="butt"/>
<line x1="114.66" y1="169.5" x2="114.66" y2="212.5" stroke="#333" stroke-width="0.95" stroke-linecap="butt"/>
<line x1="112.46" y1="169.5" x2="116.86" y2="169.5" stroke="#333" stroke-width="1.05" stroke-linecap="butt"/>
<line x1="112.46" y1="212.5" x2="116.86" y2="212.5" stroke="#333" stroke-width="1.05" stroke-linecap="butt"/>
<polyline points="39.4,235.85 58.21,226.22 77.03,214.51 114.66,190.75 152.29,175.05" fill="none" stroke="#111" stroke-width="1.2" stroke-dasharray="1.2,0.9" stroke-linejoin="round"/>
<circle cx="39.4" cy="235.85" r="2.4" fill="#fff" stroke="#111" stroke-width="1.15"/>
<circle cx="58.21" cy="226.22" r="2.4" fill="#fff" stroke="#111" stroke-width="1.15"/>
<circle cx="77.03" cy="214.51" r="2.4" fill="#fff" stroke="#111" stroke-width="1.15"/>
<circle cx="114.66" cy="190.75" r="2.4" fill="#fff" stroke="#111" stroke-width="1.15"/>
<circle cx="152.29" cy="175.05" r="2.4" fill="#fff" stroke="#111" stroke-width="1.15"/>
<polyline points="39.4,235.29 58.21,235.29 77.03,235.29 114.66,235.29 152.29,235.29" fill="none" stroke="#a8a8a8" stroke-width="0.9" stroke-linejoin="round"/>
<polygon points="39.4,232.76 41.82,237.06 36.98,237.06" fill="#9a9a9a" stroke="#9a9a9a" stroke-width="0.85"/>
<polygon points="58.21,232.76 60.63,237.06 55.79,237.06" fill="#9a9a9a" stroke="#9a9a9a" stroke-width="0.85"/>
<polygon points="77.03,232.76 79.45,237.06 74.61,237.06" fill="#9a9a9a" stroke="#9a9a9a" stroke-width="0.85"/>
<polygon points="114.66,232.76 117.08,237.06 112.24,237.06" fill="#9a9a9a" stroke="#9a9a9a" stroke-width="0.85"/>
<polygon points="152.29,232.76 154.71,237.06 149.87,237.06" fill="#9a9a9a" stroke="#9a9a9a" stroke-width="0.85"/>
<polyline points="39.4,234.72 58.21,234.72 77.03,234.72 114.66,234.72 152.29,234.72" fill="none" stroke="#c4c4c4" stroke-width="0.8" stroke-linejoin="round"/>
<polygon points="39.4,231.96 42.04,236.66 36.76,236.66" fill="#fff" stroke="#a8a8a8" stroke-width="0.85"/>
<polygon points="58.21,231.96 60.85,236.66 55.57,236.66" fill="#fff" stroke="#a8a8a8" stroke-width="0.85"/>
<polygon points="77.03,231.96 79.67,236.66 74.39,236.66" fill="#fff" stroke="#a8a8a8" stroke-width="0.85"/>
<polygon points="114.66,231.96 117.3,236.66 112.02,236.66" fill="#fff" stroke="#a8a8a8" stroke-width="0.85"/>
<polygon points="152.29,231.96 154.93,236.66 149.65,236.66" fill="#fff" stroke="#a8a8a8" stroke-width="0.85"/>
<polyline points="39.4,234.72 58.21,234.72 77.03,234.72 114.66,233.03 152.29,234.72" fill="none" stroke="#a2a2a2" stroke-width="0.8" stroke-dasharray="1,0.8" stroke-linejoin="round"/>
<rect x="37.1" y="232.42" width="4.6" height="4.6" fill="#fff" stroke="#999" stroke-width="0.85"/>
<rect x="55.91" y="232.42" width="4.6" height="4.6" fill="#fff" stroke="#999" stroke-width="0.85"/>
<rect x="74.73" y="232.42" width="4.6" height="4.6" fill="#fff" stroke="#999" stroke-width="0.85"/>
<rect x="112.36" y="230.73" width="4.6" height="4.6" fill="#fff" stroke="#999" stroke-width="0.85"/>
<rect x="149.99" y="232.42" width="4.6" height="4.6" fill="#fff" stroke="#999" stroke-width="0.85"/>
<polyline points="39.4,234.61 58.21,235.01 77.03,234.61 114.66,235.01 152.29,234.44" fill="none" stroke="#a8a8a8" stroke-width="1.0" stroke-linejoin="round"/>
<rect x="37.1" y="232.31" width="4.6" height="4.6" fill="#9a9a9a" stroke="#9a9a9a" stroke-width="0.85"/>
<rect x="55.91" y="232.71" width="4.6" height="4.6" fill="#9a9a9a" stroke="#9a9a9a" stroke-width="0.85"/>
<rect x="74.73" y="232.31" width="4.6" height="4.6" fill="#9a9a9a" stroke="#9a9a9a" stroke-width="0.85"/>
<rect x="112.36" y="232.71" width="4.6" height="4.6" fill="#9a9a9a" stroke="#9a9a9a" stroke-width="0.85"/>
<rect x="149.99" y="232.14" width="4.6" height="4.6" fill="#9a9a9a" stroke="#9a9a9a" stroke-width="0.85"/>
<line x1="204.4" y1="151.4" x2="204.4" y2="235.85" stroke="#3a3a3a" stroke-width="0.9" stroke-linecap="butt"/>
<line x1="201.9" y1="235.85" x2="204.4" y2="235.85" stroke="#3a3a3a" stroke-width="0.9" stroke-linecap="butt"/>
<text font-size="7.3" text-anchor="end" font-weight="normal" fill="#161616" stroke="#161616" stroke-width="0.12" transform="translate(200.7 238.6) scale(0.97 1)">0.00</text>
<line x1="201.9" y1="193.62" x2="204.4" y2="193.62" stroke="#3a3a3a" stroke-width="0.9" stroke-linecap="butt"/>
<text font-size="7.3" text-anchor="end" font-weight="normal" fill="#161616" stroke="#161616" stroke-width="0.12" transform="translate(200.7 196.38) scale(0.97 1)">0.05</text>
<line x1="201.9" y1="151.4" x2="204.4" y2="151.4" stroke="#3a3a3a" stroke-width="0.9" stroke-linecap="butt"/>
<text font-size="7.3" text-anchor="end" font-weight="normal" fill="#161616" stroke="#161616" stroke-width="0.12" transform="translate(200.7 154.15) scale(0.97 1)">0.10</text>
<line x1="213.8" y1="245.5" x2="345.5" y2="245.5" stroke="#3a3a3a" stroke-width="0.9" stroke-linecap="butt"/>
<line x1="213.8" y1="245.5" x2="213.8" y2="248.1" stroke="#3a3a3a" stroke-width="0.9" stroke-linecap="butt"/>
<text font-size="7.3" text-anchor="middle" font-weight="normal" fill="#161616" stroke="#161616" stroke-width="0.12" transform="translate(213.8 255.7) scale(0.97 1)">0</text>
<line x1="251.43" y1="245.5" x2="251.43" y2="248.1" stroke="#3a3a3a" stroke-width="0.9" stroke-linecap="butt"/>
<text font-size="7.3" text-anchor="middle" font-weight="normal" fill="#161616" stroke="#161616" stroke-width="0.12" transform="translate(251.43 255.7) scale(0.97 1)">10</text>
<line x1="289.06" y1="245.5" x2="289.06" y2="248.1" stroke="#3a3a3a" stroke-width="0.9" stroke-linecap="butt"/>
<text font-size="7.3" text-anchor="middle" font-weight="normal" fill="#161616" stroke="#161616" stroke-width="0.12" transform="translate(289.06 255.7) scale(0.97 1)">20</text>
<line x1="326.69" y1="245.5" x2="326.69" y2="248.1" stroke="#3a3a3a" stroke-width="0.9" stroke-linecap="butt"/>
<text font-size="7.3" text-anchor="middle" font-weight="normal" fill="#161616" stroke="#161616" stroke-width="0.12" transform="translate(326.69 255.7) scale(0.97 1)">30</text>
<text font-size="7.8" text-anchor="middle" font-weight="normal" fill="#161616" stroke="#161616" stroke-width="0.15" transform="translate(278.5 266.3)">Time (min)</text>
<text font-size="7.8" text-anchor="middle" font-weight="normal" fill="#161616" stroke="#161616" stroke-width="0.15" transform="translate(183.4 193.62) rotate(-90)">Relative abundance</text>
<polyline points="213.8,235.01 232.62,236.02 251.43,236.02 289.06,235.17 326.69,235.17" fill="none" stroke="#111" stroke-width="0.9" stroke-linejoin="round"/>
<circle cx="213.8" cy="235.01" r="2.25" fill="#111" stroke="#111" stroke-width="0.85"/>
<circle cx="232.62" cy="236.02" r="2.25" fill="#111" stroke="#111" stroke-width="0.85"/>
<circle cx="251.43" cy="236.02" r="2.25" fill="#111" stroke="#111" stroke-width="0.85"/>
<circle cx="289.06" cy="235.17" r="2.25" fill="#111" stroke="#111" stroke-width="0.85"/>
<circle cx="326.69" cy="235.17" r="2.25" fill="#111" stroke="#111" stroke-width="0.85"/>
<line x1="289.06" y1="216.5" x2="289.06" y2="225.5" stroke="#333" stroke-width="0.95" stroke-linecap="butt"/>
<line x1="286.86" y1="216.5" x2="291.26" y2="216.5" stroke="#333" stroke-width="1.05" stroke-linecap="butt"/>
<line x1="286.86" y1="225.5" x2="291.26" y2="225.5" stroke="#333" stroke-width="1.05" stroke-linecap="butt"/>
<polyline points="213.8,235.01 232.62,235.01 251.43,234.16 289.06,220.73 326.69,224.53" fill="none" stroke="#111" stroke-width="1.2" stroke-dasharray="1.2,0.9" stroke-linejoin="round"/>
<circle cx="213.8" cy="235.01" r="2.4" fill="#fff" stroke="#111" stroke-width="1.15"/>
<circle cx="232.62" cy="235.01" r="2.4" fill="#fff" stroke="#111" stroke-width="1.15"/>
<circle cx="251.43" cy="234.16" r="2.4" fill="#fff" stroke="#111" stroke-width="1.15"/>
<circle cx="289.06" cy="220.73" r="2.4" fill="#fff" stroke="#111" stroke-width="1.15"/>
<circle cx="326.69" cy="224.53" r="2.4" fill="#fff" stroke="#111" stroke-width="1.15"/>
<polyline points="213.8,235.01 232.62,234.16 251.43,234.16 289.06,235.01 326.69,235.01" fill="none" stroke="#a8a8a8" stroke-width="0.9" stroke-linejoin="round"/>
<polygon points="213.8,232.48 216.22,236.78 211.38,236.78" fill="#9a9a9a" stroke="#9a9a9a" stroke-width="0.85"/>
<polygon points="232.62,231.63 235.03,235.93 230.2,235.93" fill="#9a9a9a" stroke="#9a9a9a" stroke-width="0.85"/>
<polygon points="251.43,231.63 253.85,235.93 249.01,235.93" fill="#9a9a9a" stroke="#9a9a9a" stroke-width="0.85"/>
<polygon points="289.06,232.48 291.48,236.78 286.64,236.78" fill="#9a9a9a" stroke="#9a9a9a" stroke-width="0.85"/>
<polygon points="326.69,232.48 329.11,236.78 324.27,236.78" fill="#9a9a9a" stroke="#9a9a9a" stroke-width="0.85"/>
<polyline points="213.8,235.01 232.62,235.01 251.43,235.01 289.06,235.01 326.69,235.01" fill="none" stroke="#c4c4c4" stroke-width="0.8" stroke-linejoin="round"/>
<polygon points="213.8,232.25 216.44,236.94 211.16,236.94" fill="#fff" stroke="#a8a8a8" stroke-width="0.85"/>
<polygon points="232.62,232.25 235.25,236.94 229.98,236.94" fill="#fff" stroke="#a8a8a8" stroke-width="0.85"/>
<polygon points="251.43,232.25 254.07,236.94 248.79,236.94" fill="#fff" stroke="#a8a8a8" stroke-width="0.85"/>
<polygon points="289.06,232.25 291.7,236.94 286.42,236.94" fill="#fff" stroke="#a8a8a8" stroke-width="0.85"/>
<polygon points="326.69,232.25 329.33,236.94 324.05,236.94" fill="#fff" stroke="#a8a8a8" stroke-width="0.85"/>
<line x1="232.62" y1="189.5" x2="232.62" y2="217.5" stroke="#999" stroke-width="0.85" stroke-linecap="butt"/>
<line x1="230.42" y1="189.5" x2="234.81" y2="189.5" stroke="#999" stroke-width="0.95" stroke-linecap="butt"/>
<line x1="230.42" y1="217.5" x2="234.81" y2="217.5" stroke="#999" stroke-width="0.95" stroke-linecap="butt"/>
<line x1="289.06" y1="181.5" x2="289.06" y2="188.5" stroke="#999" stroke-width="0.85" stroke-linecap="butt"/>
<line x1="286.86" y1="181.5" x2="291.26" y2="181.5" stroke="#999" stroke-width="0.95" stroke-linecap="butt"/>
<line x1="286.86" y1="188.5" x2="291.26" y2="188.5" stroke="#999" stroke-width="0.95" stroke-linecap="butt"/>
<line x1="326.69" y1="163.5" x2="326.69" y2="185.5" stroke="#999" stroke-width="0.85" stroke-linecap="butt"/>
<line x1="324.49" y1="163.5" x2="328.89" y2="163.5" stroke="#999" stroke-width="0.95" stroke-linecap="butt"/>
<line x1="324.49" y1="185.5" x2="328.89" y2="185.5" stroke="#999" stroke-width="0.95" stroke-linecap="butt"/>
<polyline points="213.8,235.85 232.62,203.25 251.43,206.97 289.06,185.52 326.69,174.54" fill="none" stroke="#a2a2a2" stroke-width="0.8" stroke-dasharray="1,0.8" stroke-linejoin="round"/>
<rect x="211.5" y="233.55" width="4.6" height="4.6" fill="#fff" stroke="#999" stroke-width="0.85"/>
<rect x="230.31" y="200.95" width="4.6" height="4.6" fill="#fff" stroke="#999" stroke-width="0.85"/>
<rect x="249.13" y="204.67" width="4.6" height="4.6" fill="#fff" stroke="#999" stroke-width="0.85"/>
<rect x="286.76" y="183.22" width="4.6" height="4.6" fill="#fff" stroke="#999" stroke-width="0.85"/>
<rect x="324.39" y="172.24" width="4.6" height="4.6" fill="#fff" stroke="#999" stroke-width="0.85"/>
<line x1="232.62" y1="229.5" x2="232.62" y2="232.5" stroke="#9a9a9a" stroke-width="0.85" stroke-linecap="butt"/>
<line x1="230.42" y1="229.5" x2="234.81" y2="229.5" stroke="#9a9a9a" stroke-width="0.95" stroke-linecap="butt"/>
<line x1="230.42" y1="232.5" x2="234.81" y2="232.5" stroke="#9a9a9a" stroke-width="0.95" stroke-linecap="butt"/>
<line x1="251.43" y1="230.5" x2="251.43" y2="232.5" stroke="#9a9a9a" stroke-width="0.85" stroke-linecap="butt"/>
<line x1="249.23" y1="230.5" x2="253.63" y2="230.5" stroke="#9a9a9a" stroke-width="0.95" stroke-linecap="butt"/>
<line x1="249.23" y1="232.5" x2="253.63" y2="232.5" stroke="#9a9a9a" stroke-width="0.95" stroke-linecap="butt"/>
<polyline points="213.8,234.67 232.62,232.98 251.43,232.47 289.06,234.5 326.69,234.5" fill="none" stroke="#a8a8a8" stroke-width="1.0" stroke-linejoin="round"/>
<rect x="211.5" y="232.37" width="4.6" height="4.6" fill="#9a9a9a" stroke="#9a9a9a" stroke-width="0.85"/>
<rect x="230.31" y="230.68" width="4.6" height="4.6" fill="#9a9a9a" stroke="#9a9a9a" stroke-width="0.85"/>
<rect x="249.13" y="230.17" width="4.6" height="4.6" fill="#9a9a9a" stroke="#9a9a9a" stroke-width="0.85"/>
<rect x="286.76" y="232.2" width="4.6" height="4.6" fill="#9a9a9a" stroke="#9a9a9a" stroke-width="0.85"/>
<rect x="324.39" y="232.2" width="4.6" height="4.6" fill="#9a9a9a" stroke="#9a9a9a" stroke-width="0.85"/>
<line x1="377.2" y1="151.4" x2="377.2" y2="235.85" stroke="#3a3a3a" stroke-width="0.9" stroke-linecap="butt"/>
<line x1="374.7" y1="235.85" x2="377.2" y2="235.85" stroke="#3a3a3a" stroke-width="0.9" stroke-linecap="butt"/>
<text font-size="7.3" text-anchor="end" font-weight="normal" fill="#161616" stroke="#161616" stroke-width="0.12" transform="translate(373.5 238.6) scale(0.97 1)">0.0</text>
<line x1="374.7" y1="207.7" x2="377.2" y2="207.7" stroke="#3a3a3a" stroke-width="0.9" stroke-linecap="butt"/>
<text font-size="7.3" text-anchor="end" font-weight="normal" fill="#161616" stroke="#161616" stroke-width="0.12" transform="translate(373.5 210.45) scale(0.97 1)">0.1</text>
<line x1="374.7" y1="179.55" x2="377.2" y2="179.55" stroke="#3a3a3a" stroke-width="0.9" stroke-linecap="butt"/>
<text font-size="7.3" text-anchor="end" font-weight="normal" fill="#161616" stroke="#161616" stroke-width="0.12" transform="translate(373.5 182.3) scale(0.97 1)">0.2</text>
<line x1="374.7" y1="151.4" x2="377.2" y2="151.4" stroke="#3a3a3a" stroke-width="0.9" stroke-linecap="butt"/>
<text font-size="7.3" text-anchor="end" font-weight="normal" fill="#161616" stroke="#161616" stroke-width="0.12" transform="translate(373.5 154.15) scale(0.97 1)">0.3</text>
<line x1="386.5" y1="245.5" x2="518.2" y2="245.5" stroke="#3a3a3a" stroke-width="0.9" stroke-linecap="butt"/>
<line x1="386.5" y1="245.5" x2="386.5" y2="248.1" stroke="#3a3a3a" stroke-width="0.9" stroke-linecap="butt"/>
<text font-size="7.3" text-anchor="middle" font-weight="normal" fill="#161616" stroke="#161616" stroke-width="0.12" transform="translate(386.5 255.7) scale(0.97 1)">0</text>
<line x1="424.13" y1="245.5" x2="424.13" y2="248.1" stroke="#3a3a3a" stroke-width="0.9" stroke-linecap="butt"/>
<text font-size="7.3" text-anchor="middle" font-weight="normal" fill="#161616" stroke="#161616" stroke-width="0.12" transform="translate(424.13 255.7) scale(0.97 1)">10</text>
<line x1="461.76" y1="245.5" x2="461.76" y2="248.1" stroke="#3a3a3a" stroke-width="0.9" stroke-linecap="butt"/>
<text font-size="7.3" text-anchor="middle" font-weight="normal" fill="#161616" stroke="#161616" stroke-width="0.12" transform="translate(461.76 255.7) scale(0.97 1)">20</text>
<line x1="499.39" y1="245.5" x2="499.39" y2="248.1" stroke="#3a3a3a" stroke-width="0.9" stroke-linecap="butt"/>
<text font-size="7.3" text-anchor="middle" font-weight="normal" fill="#161616" stroke="#161616" stroke-width="0.12" transform="translate(499.39 255.7) scale(0.97 1)">30</text>
<text font-size="7.8" text-anchor="middle" font-weight="normal" fill="#161616" stroke="#161616" stroke-width="0.15" transform="translate(451.4 266.3)">Time (min)</text>
<text font-size="7.8" text-anchor="middle" font-weight="normal" fill="#161616" stroke="#161616" stroke-width="0.15" transform="translate(358 193.62) rotate(-90)">Relative abundance</text>
<polyline points="386.5,236.69 405.31,235.29 424.13,235.01 461.76,234.72 499.39,234.44" fill="none" stroke="#111" stroke-width="0.9" stroke-linejoin="round"/>
<circle cx="386.5" cy="236.69" r="2.25" fill="#111" stroke="#111" stroke-width="0.85"/>
<circle cx="405.31" cy="235.29" r="2.25" fill="#111" stroke="#111" stroke-width="0.85"/>
<circle cx="424.13" cy="235.01" r="2.25" fill="#111" stroke="#111" stroke-width="0.85"/>
<circle cx="461.76" cy="234.72" r="2.25" fill="#111" stroke="#111" stroke-width="0.85"/>
<circle cx="499.39" cy="234.44" r="2.25" fill="#111" stroke="#111" stroke-width="0.85"/>
<polyline points="386.5,235.29 405.31,231.99 424.13,232.5 461.76,229.99 499.39,229.49" fill="none" stroke="#111" stroke-width="1.2" stroke-dasharray="1.2,0.9" stroke-linejoin="round"/>
<circle cx="386.5" cy="235.29" r="2.4" fill="#fff" stroke="#111" stroke-width="1.15"/>
<circle cx="405.31" cy="231.99" r="2.4" fill="#fff" stroke="#111" stroke-width="1.15"/>
<circle cx="424.13" cy="232.5" r="2.4" fill="#fff" stroke="#111" stroke-width="1.15"/>
<circle cx="461.76" cy="229.99" r="2.4" fill="#fff" stroke="#111" stroke-width="1.15"/>
<circle cx="499.39" cy="229.49" r="2.4" fill="#fff" stroke="#111" stroke-width="1.15"/>
<polyline points="386.5,235.57 405.31,235.29 424.13,235.29 461.76,236.13 499.39,236.13" fill="none" stroke="#a8a8a8" stroke-width="0.9" stroke-linejoin="round"/>
<polygon points="386.5,233.04 388.92,237.34 384.08,237.34" fill="#9a9a9a" stroke="#9a9a9a" stroke-width="0.85"/>
<polygon points="405.31,232.76 407.74,237.06 402.89,237.06" fill="#9a9a9a" stroke="#9a9a9a" stroke-width="0.85"/>
<polygon points="424.13,232.76 426.55,237.06 421.71,237.06" fill="#9a9a9a" stroke="#9a9a9a" stroke-width="0.85"/>
<polygon points="461.76,233.6 464.18,237.9 459.34,237.9" fill="#9a9a9a" stroke="#9a9a9a" stroke-width="0.85"/>
<polygon points="499.39,233.6 501.81,237.9 496.97,237.9" fill="#9a9a9a" stroke="#9a9a9a" stroke-width="0.85"/>
<polyline points="386.5,235.29 405.31,235.01 424.13,235.01 461.76,235.01 499.39,235.01" fill="none" stroke="#c4c4c4" stroke-width="0.8" stroke-linejoin="round"/>
<polygon points="386.5,232.53 389.14,237.22 383.86,237.22" fill="#fff" stroke="#a8a8a8" stroke-width="0.85"/>
<polygon points="405.31,232.25 407.95,236.94 402.68,236.94" fill="#fff" stroke="#a8a8a8" stroke-width="0.85"/>
<polygon points="424.13,232.25 426.77,236.94 421.49,236.94" fill="#fff" stroke="#a8a8a8" stroke-width="0.85"/>
<polygon points="461.76,232.25 464.4,236.94 459.12,236.94" fill="#fff" stroke="#a8a8a8" stroke-width="0.85"/>
<polygon points="499.39,232.25 502.03,236.94 496.75,236.94" fill="#fff" stroke="#a8a8a8" stroke-width="0.85"/>
<line x1="499.39" y1="168.5" x2="499.39" y2="181.5" stroke="#999" stroke-width="0.85" stroke-linecap="butt"/>
<line x1="497.19" y1="168.5" x2="501.59" y2="168.5" stroke="#999" stroke-width="0.95" stroke-linecap="butt"/>
<line x1="497.19" y1="181.5" x2="501.59" y2="181.5" stroke="#999" stroke-width="0.95" stroke-linecap="butt"/>
<polyline points="386.5,235.29 405.31,224.56 424.13,211.7 461.76,175.75 499.39,175.19" fill="none" stroke="#a2a2a2" stroke-width="0.8" stroke-dasharray="1,0.8" stroke-linejoin="round"/>
<rect x="384.2" y="232.99" width="4.6" height="4.6" fill="#fff" stroke="#999" stroke-width="0.85"/>
<rect x="403.01" y="222.26" width="4.6" height="4.6" fill="#fff" stroke="#999" stroke-width="0.85"/>
<rect x="421.83" y="209.4" width="4.6" height="4.6" fill="#fff" stroke="#999" stroke-width="0.85"/>
<rect x="459.46" y="173.45" width="4.6" height="4.6" fill="#fff" stroke="#999" stroke-width="0.85"/>
<rect x="497.09" y="172.89" width="4.6" height="4.6" fill="#fff" stroke="#999" stroke-width="0.85"/>
<polyline points="386.5,234.72 405.31,235.29 424.13,235.29 461.76,236.13 499.39,236.13" fill="none" stroke="#a8a8a8" stroke-width="1.0" stroke-linejoin="round"/>
<rect x="384.2" y="232.42" width="4.6" height="4.6" fill="#9a9a9a" stroke="#9a9a9a" stroke-width="0.85"/>
<rect x="403.01" y="232.99" width="4.6" height="4.6" fill="#9a9a9a" stroke="#9a9a9a" stroke-width="0.85"/>
<rect x="421.83" y="232.99" width="4.6" height="4.6" fill="#9a9a9a" stroke="#9a9a9a" stroke-width="0.85"/>
<rect x="459.46" y="233.83" width="4.6" height="4.6" fill="#9a9a9a" stroke="#9a9a9a" stroke-width="0.85"/>
<rect x="497.09" y="233.83" width="4.6" height="4.6" fill="#9a9a9a" stroke="#9a9a9a" stroke-width="0.85"/>
<defs><filter id="bl" x="-30%" y="-80%" width="160%" height="260%"><feGaussianBlur stdDeviation="0.45"/></filter><filter id="bl2" x="-30%" y="-80%" width="160%" height="260%"><feGaussianBlur stdDeviation="0.9"/></filter><linearGradient id="cyp" x1="0" y1="0" x2="1" y2="0"><stop offset="0" stop-color="#9e9e9e"/><stop offset="0.7" stop-color="#a1a1a1"/><stop offset="0.82" stop-color="#a9a9a9"/><stop offset="1" stop-color="#a3a3a3"/></linearGradient></defs>
<rect x="66" y="303.1" width="195.8" height="17.9" fill="url(#cyp)" stroke="#262626" stroke-width="1.7"/>
<rect x="66" y="323.6" width="195.8" height="15.2" fill="#eeeeee" stroke="#262626" stroke-width="1.6"/>
<path d="M75,328.5 L90,328.8 Q91.5,330.4 90.2,332.2 L75,332.6 Q73.3,330.6 75,328.5 Z" fill="#080808" filter="url(#bl)"/>
<path d="M95.5,328.7 L110.9,329 Q112.4,330.6 111.1,332.4 L95.5,332.8 Q93.8,330.8 95.5,328.7 Z" fill="#080808" filter="url(#bl)"/>
<path d="M115.6,329.3 L131.4,329.6 Q132.9,331.2 131.6,333 L115.6,333.4 Q113.9,331.4 115.6,329.3 Z" fill="#080808" filter="url(#bl)"/>
<path d="M135.4,329.6 L150.4,329.9 Q151.9,331.5 150.6,333.3 L135.4,333.7 Q133.7,331.7 135.4,329.6 Z" fill="#080808" filter="url(#bl)"/>
<path d="M155.2,329.7 L170.8,330 Q172.3,331.6 171,333.4 L155.2,333.8 Q153.5,331.8 155.2,329.7 Z" fill="#080808" filter="url(#bl)"/>
<path d="M176,329.4 L191.2,329.7 Q192.7,331.3 191.4,333.1 L176,333.5 Q174.3,331.5 176,329.4 Z" fill="#080808" filter="url(#bl)"/>
<path d="M196.4,329.05 L211.6,329.05 Q213.1,330.65 211.8,332.45 L196.4,333.15 Q194.7,331.15 196.4,329.05 Z" fill="#080808" filter="url(#bl)"/>
<path d="M216.5,328.45 L232.1,328.45 Q233.6,330.05 232.3,331.85 L216.5,332.55 Q214.8,330.55 216.5,328.45 Z" fill="#080808" filter="url(#bl)"/>
<path d="M237,327.05 L251.8,326.45 Q253.3,328.05 252,329.85 L237,331.15 Q235.3,329.15 237,327.05 Z" fill="#080808" filter="url(#bl)"/>
<rect x="156.2" y="310.6" width="14" height="2.4" fill="#000" opacity="0.03" filter="url(#bl2)"/>
<rect x="176.4" y="310.6" width="14" height="2.4" fill="#000" opacity="0.05" filter="url(#bl2)"/>
<rect x="196.6" y="310.6" width="14" height="2.4" fill="#000" opacity="0.07" filter="url(#bl2)"/>
<rect x="217" y="310.6" width="14" height="2.4" fill="#000" opacity="0.09" filter="url(#bl2)"/>
<path d="M240,308.0 L256,307.2 C258.6,307.1 259,308.6 258.9,310 C258.8,311.6 258,312.7 255.5,312.9 L240.5,315.4 C238,315.7 237.1,313.5 237.2,311.6 C237.3,309.4 238.2,308.1 240,308.0 Z" fill="#030303" filter="url(#bl)"/>
<text font-size="7.8" text-anchor="end" font-weight="normal" fill="#161616" stroke="#161616" stroke-width="0.15" transform="translate(61.6 315.9)">CYP1A1</text>
<text font-size="7.8" text-anchor="end" font-weight="normal" fill="#161616" stroke="#161616" stroke-width="0.15" transform="translate(61.6 333.9)">Grp78</text>
<line x1="76.5" y1="342.9" x2="150.1" y2="342.9" stroke="#0a0a0a" stroke-width="1.9" stroke-linecap="butt"/>
<line x1="156.7" y1="342.9" x2="230.2" y2="342.9" stroke="#0a0a0a" stroke-width="1.9" stroke-linecap="butt"/>
<text font-size="7.8" text-anchor="middle" font-weight="normal" fill="#161616" stroke="#161616" stroke-width="0.15" transform="translate(112.6 352.5)">Vehicle</text>
<text font-size="7.8" text-anchor="middle" font-weight="normal" fill="#161616" stroke="#161616" stroke-width="0.15" transform="translate(195.4 352.6)">Osimertinib</text>
<text font-size="7.4" text-anchor="middle" font-weight="normal" fill="#161616" stroke="#161616" stroke-width="0.15" transform="translate(246.4 347.8)">TCDD</text>
<line x1="365.2" y1="294" x2="365.2" y2="351.2" stroke="#3a3a3a" stroke-width="0.9" stroke-linecap="butt"/>
<line x1="362.9" y1="351.2" x2="365.2" y2="351.2" stroke="#3a3a3a" stroke-width="0.9" stroke-linecap="butt"/>
<text font-size="7.0" text-anchor="end" font-weight="normal" fill="#161616" stroke="#161616" stroke-width="0.12" transform="translate(362.3 353.3) scale(0.97 1)">0</text>
<line x1="362.9" y1="339.76" x2="365.2" y2="339.76" stroke="#3a3a3a" stroke-width="0.9" stroke-linecap="butt"/>
<text font-size="7.0" text-anchor="end" font-weight="normal" fill="#161616" stroke="#161616" stroke-width="0.12" transform="translate(362.3 341.86) scale(0.97 1)">100</text>
<line x1="362.9" y1="328.32" x2="365.2" y2="328.32" stroke="#3a3a3a" stroke-width="0.9" stroke-linecap="butt"/>
<text font-size="7.0" text-anchor="end" font-weight="normal" fill="#161616" stroke="#161616" stroke-width="0.12" transform="translate(362.3 330.42) scale(0.97 1)">200</text>
<line x1="362.9" y1="316.88" x2="365.2" y2="316.88" stroke="#3a3a3a" stroke-width="0.9" stroke-linecap="butt"/>
<text font-size="7.0" text-anchor="end" font-weight="normal" fill="#161616" stroke="#161616" stroke-width="0.12" transform="translate(362.3 318.98) scale(0.97 1)">300</text>
<line x1="362.9" y1="305.44" x2="365.2" y2="305.44" stroke="#3a3a3a" stroke-width="0.9" stroke-linecap="butt"/>
<text font-size="7.0" text-anchor="end" font-weight="normal" fill="#161616" stroke="#161616" stroke-width="0.12" transform="translate(362.3 307.54) scale(0.97 1)">400</text>
<line x1="362.9" y1="294" x2="365.2" y2="294" stroke="#3a3a3a" stroke-width="0.9" stroke-linecap="butt"/>
<text font-size="7.0" text-anchor="end" font-weight="normal" fill="#161616" stroke="#161616" stroke-width="0.12" transform="translate(362.3 296.1) scale(0.97 1)">500</text>
<line x1="365.2" y1="351.2" x2="474.2" y2="351.2" stroke="#3a3a3a" stroke-width="0.9" stroke-linecap="butt"/>
<line x1="392.4" y1="333.93" x2="392.4" y2="337.36" stroke="#222" stroke-width="0.9" stroke-linecap="butt"/>
<line x1="383.5" y1="333.93" x2="401.3" y2="333.93" stroke="#444" stroke-width="1.0" stroke-linecap="butt"/>
<rect x="374.3" y="337.36" width="36.2" height="13.84" fill="#fff" stroke="#111" stroke-width="0.9"/>
<line x1="446.7" y1="307.38" x2="446.7" y2="319.17" stroke="#111" stroke-width="0.9" stroke-linecap="butt"/>
<line x1="437.8" y1="307.38" x2="455.6" y2="307.38" stroke="#111" stroke-width="0.9" stroke-linecap="butt"/>
<rect x="428.8" y="319.17" width="36.2" height="32.03" fill="#000" stroke="#000" stroke-width="0.9"/>
<line x1="392.4" y1="351.2" x2="392.4" y2="353" stroke="#3a3a3a" stroke-width="0.9" stroke-linecap="butt"/>
<line x1="446.7" y1="351.2" x2="446.7" y2="353" stroke="#3a3a3a" stroke-width="0.9" stroke-linecap="butt"/>
<line x1="391.4" y1="300.1" x2="446.5" y2="300.1" stroke="#111" stroke-width="1.1" stroke-linecap="butt"/>
<text font-size="9.5" text-anchor="middle" font-weight="bold" fill="#000" stroke="#000" stroke-width="0.3" transform="translate(419.2 298.2)">*</text>
<text font-size="7.5" text-anchor="middle" font-weight="normal" fill="#161616" stroke="#161616" stroke-width="0.15" transform="translate(392.3 360.6)">Vehicle</text>
<text font-size="7.5" text-anchor="middle" font-weight="normal" fill="#161616" stroke="#161616" stroke-width="0.15" transform="translate(445.9 360.6)">Osimertinib</text>
<text font-size="7.8" text-anchor="middle" font-weight="normal" fill="#161616" stroke="#161616" stroke-width="0.15" transform="translate(332.9 321.5) rotate(-90)">Resorufin</text>
<text font-size="7.8" text-anchor="middle" font-weight="normal" fill="#161616" stroke="#161616" stroke-width="0.15" transform="translate(342.6 321.3) rotate(-90)">pmol/min/mg protein</text>
</svg></body></html>
